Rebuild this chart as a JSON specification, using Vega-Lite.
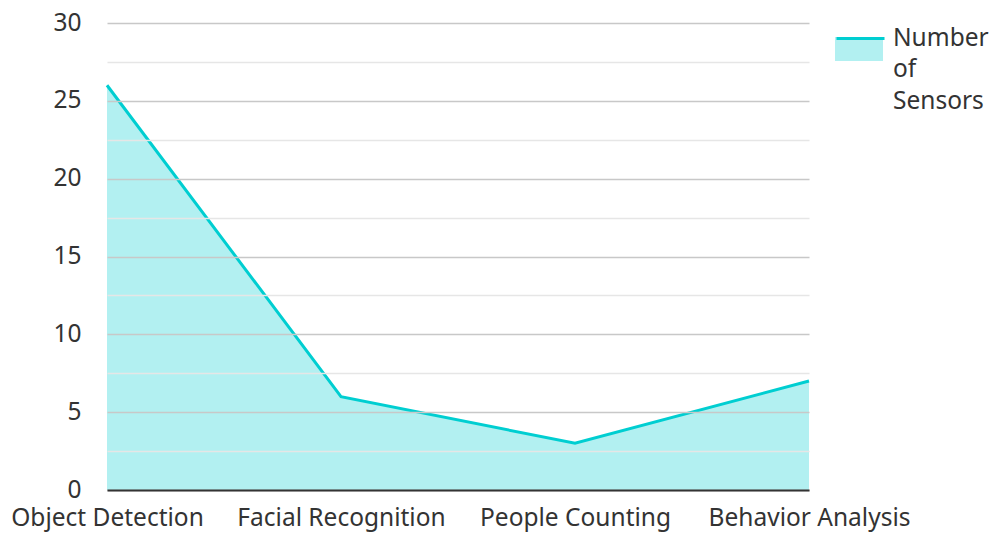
{
  "$schema": "https://vega.github.io/schema/vega-lite/v6.json",
  "width": 702,
  "height": 467,
  "autosize": {"type": "none"},
  "padding": {"left": 107, "top": 23, "right": 186, "bottom": 43},
  "background": "white",
  "config": {
    "view": {"stroke": null},
    "font": "Noto Sans",
    "style": {"guide-label": {"lineHeight": 31.5}},
    "axis": {"labelFont": "Noto Sans", "labelFontSize": 24.5, "labelColor": "#333333", "labelLimit": 0},
    "legend": {"labelFont": "Noto Sans", "labelFontSize": 24.5, "labelColor": "#333333", "labelLimit": 0}
  },
  "data": {
    "values": [
      {"category": "Object Detection", "value": 26},
      {"category": "Facial Recognition", "value": 6},
      {"category": "People Counting", "value": 3},
      {"category": "Behavior Analysis", "value": 7}
    ]
  },
  "encoding": {
    "x": {
      "field": "category",
      "type": "ordinal",
      "sort": null,
      "scale": {"type": "point", "padding": 0},
      "axis": {
        "title": null,
        "labelAngle": 0,
        "ticks": false,
        "domain": true,
        "domainColor": "#333333",
        "domainWidth": 2,
        "grid": false,
        "labelPadding": 16,
        "zindex": 2
      }
    },
    "y": {
      "field": "value",
      "type": "quantitative",
      "scale": {"domain": [0, 30], "nice": false},
      "axis": {
        "title": null,
        "values": [0, 2.5, 5, 7.5, 10, 12.5, 15, 17.5, 20, 22.5, 25, 27.5, 30],
        "labelExpr": "datum.value % 5 === 0 ? datum.label : ''",
        "ticks": false,
        "domain": false,
        "grid": true,
        "gridColor": {"condition": {"test": "datum.value % 5 !== 0", "value": "#e6e6e6"}, "value": "#c8c8c8"},
        "gridWidth": 1.5,
        "labelPadding": 26,
        "zindex": 1
      }
    }
  },
  "layer": [
    {
      "mark": {"type": "area", "opacity": 0.3},
      "encoding": {
        "fill": {
          "datum": "area",
          "type": "nominal",
          "scale": {"range": ["#00CED1"]},
          "legend": {
            "orient": "none",
            "legendX": 728,
            "legendY": -10,
            "title": null,
            "symbolType": "M-1,0H1V1H-1Z",
            "symbolSize": 2304,
            "symbolOpacity": 0.3,
            "symbolStrokeWidth": 0,
            "labelExpr": "''"
          }
        }
      }
    },
    {
      "mark": {"type": "line", "strokeWidth": 3},
      "encoding": {
        "stroke": {
          "datum": "Number of Sensors",
          "type": "nominal",
          "scale": {"range": ["#00CED1"]},
          "legend": {
            "orient": "none",
            "legendX": 728,
            "legendY": -10,
            "title": null,
            "symbolType": "stroke",
            "symbolSize": 2304,
            "symbolStrokeWidth": 3,
            "labelExpr": "['Number', 'of', 'Sensors']",
            "labelOffset": 7
          }
        }
      }
    }
  ]
}
